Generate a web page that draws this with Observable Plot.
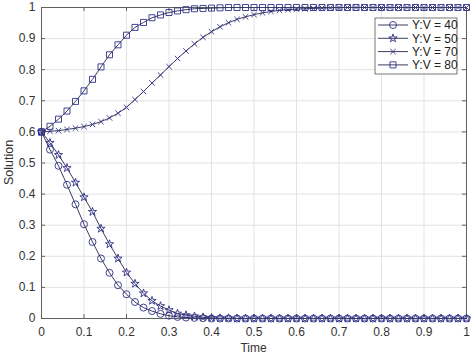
<!DOCTYPE html>
<html>
<head>
<meta charset="utf-8">
<script src="https://cdn.jsdelivr.net/npm/d3@7"></script>
<script src="https://cdn.jsdelivr.net/npm/@observablehq/plot@0.6"></script>
<style>
  html, body { margin: 0; padding: 0; background: #fff; }
  #chart { width: 474px; height: 355px; }
</style>
</head>
<body>
<div id="chart"></div>
<script>
const time = [0,0.02,0.04,0.06,0.08,0.10,0.12,0.14,0.16,0.18,0.20,0.22,0.24,0.26,0.28,0.30,0.32,0.34,0.36,0.38,0.40,0.42,0.44,0.46,0.48,0.50,0.52,0.54,0.56,0.58,0.60,0.62,0.64,0.66,0.68,0.70,0.72,0.74,0.76,0.78,0.80,0.82,0.84,0.86,0.88,0.90,0.92,0.94,0.96,0.98,1.00];

const yv40 = [0.600,0.543,0.491,0.430,0.367,0.303,0.246,0.193,0.147,0.107,0.078,0.053,0.035,0.024,0.015,0.009,0.005,0.003,0.002,0.001,
  0,0,0,0,0,0,0,0,0,0,0,0,0,0,0,0,0,0,0,0,0,0,0,0,0,0,0,0,0,0,0];
const yv50 = [0.600,0.565,0.526,0.484,0.437,0.390,0.343,0.289,0.239,0.193,0.148,0.112,0.081,0.057,0.040,0.027,0.016,0.011,0.007,0.004,0.002,0.001,0.001,
  0,0,0,0,0,0,0,0,0,0,0,0,0,0,0,0,0,0,0,0,0,0,0,0,0,0,0,0];
const yv70 = [0.600,0.602,0.604,0.608,0.612,0.617,0.624,0.633,0.645,0.660,0.679,0.704,0.730,0.757,0.783,0.810,0.836,0.860,0.883,0.904,0.922,0.938,0.951,0.962,0.970,0.977,0.983,0.987,0.991,0.993,0.995,0.996,0.997,0.998,0.999,
  1,1,1,1,1,1,1,1,1,1,1,1,1,1,1,1];
const yv80 = [0.600,0.618,0.641,0.667,0.698,0.732,0.769,0.809,0.848,0.880,0.911,0.936,0.952,0.967,0.976,0.984,0.989,0.993,0.996,0.997,0.998,0.999,
  1,1,1,1,1,1,1,1,1,1,1,1,1,1,1,1,1,1,1,1,1,1,1,1,1,1,1,1,1,1,1];

const seriesNames = ["Y:V = 40", "Y:V = 50", "Y:V = 70", "Y:V = 80"];
const seriesValues = [yv40, yv50, yv70, yv80];
const seriesSymbols = ["circle", "star", "times", "square"];

const xTicks = [0,0.1,0.2,0.3,0.4,0.5,0.6,0.7,0.8,0.9,1];
const yTicks = [0,0.1,0.2,0.3,0.4,0.5,0.6,0.7,0.8,0.9,1];

const rows = [];
seriesValues.forEach((vals, i) => {
  vals.forEach((v, j) => rows.push({series: seriesNames[i], sym: seriesSymbols[i], t: time[j], v}));
});

const lineColor = "#3d3d5e";
const markColor = "#30308a";
const axisColor = "#606060";
const font = "'Liberation Sans', Arial, sans-serif";
const symR = {circle: 3.5, star: 2.6, times: 2.6, square: 3.4};

const W = 474, H = 355;
const mL = 41, mR = 8, mT = 7, mB = 37;
const tickLenX = 4 / (W - mL - mR);
const tickLenY = 4 / (H - mT - mB);

const marks = [
  Plot.gridX(xTicks, {stroke: "#e3e3e3", strokeOpacity: 1}),
  Plot.gridY(yTicks, {stroke: "#e3e3e3", strokeOpacity: 1}),
  Plot.axisX(xTicks, {tickSize: 0, tickPadding: 9, tickFormat: d => String(+d.toFixed(1)), fontSize: 12, fill: "#333", label: null}),
  Plot.axisY(yTicks, {tickSize: 0, tickPadding: 6, tickFormat: d => String(+d.toFixed(1)), fontSize: 12, fill: "#333", label: null}),
  Plot.ruleX(xTicks, {x: d => d, y1: 0, y2: tickLenY, stroke: axisColor}),
  Plot.ruleX(xTicks, {x: d => d, y1: 1 - tickLenY, y2: 1, stroke: axisColor}),
  Plot.ruleY(yTicks, {y: d => d, x1: 0, x2: tickLenX, stroke: axisColor}),
  Plot.ruleY(yTicks, {y: d => d, x1: 1 - tickLenX, x2: 1, stroke: axisColor}),
  Plot.frame({stroke: axisColor}),
];
seriesNames.forEach((name, i) => {
  const data = rows.filter(r => r.series === name);
  marks.push(Plot.line(data, {x: "t", y: "v", stroke: lineColor, strokeWidth: 1}));
  marks.push(Plot.dot(data, {x: "t", y: "v", symbol: seriesSymbols[i], r: symR[seriesSymbols[i]], stroke: markColor, strokeWidth: 0.9, fill: "none"}));
});

const plot = Plot.plot({
  width: W, height: H,
  marginLeft: mL, marginRight: mR, marginTop: mT, marginBottom: mB,
  style: {fontFamily: font, fontSize: "12px", background: "#fff"},
  x: {domain: [0, 1]},
  y: {domain: [0, 1]},
  marks
});

// axis titles
const svg = d3.select(plot);
svg.append("text").attr("x", mL + (W - mL - mR) / 2).attr("y", 352)
  .attr("text-anchor", "middle").attr("font-size", 12).attr("fill", "#333").text("Time");
svg.append("text").attr("transform", `translate(13,${mT + (H - mT - mB) / 2}) rotate(-90)`)
  .attr("text-anchor", "middle").attr("font-size", 12.5).attr("fill", "#333").text("Solution");

// legend
const lg = svg.append("g").attr("transform", "translate(375,18)");
lg.append("rect").attr("width", 82).attr("height", 56).attr("fill", "#fff").attr("stroke", "#555").attr("stroke-width", 0.8);
const symMap = {circle: d3.symbolCircle, star: d3.symbolStar, times: d3.symbolTimes, square: d3.symbolSquare};
seriesNames.forEach((name, i) => {
  const cy = 7 + i * 13.3;
  lg.append("line").attr("x1", 3).attr("x2", 33).attr("y1", cy).attr("y2", cy).attr("stroke", lineColor);
  const r = symR[seriesSymbols[i]];
  lg.append("path").attr("transform", `translate(18,${cy})`)
    .attr("d", d3.symbol(symMap[seriesSymbols[i]], Math.PI * r * r)())
    .attr("fill", "none").attr("stroke", markColor).attr("stroke-width", 0.9);
  lg.append("text").attr("x", 37).attr("y", cy).attr("dy", "0.35em").attr("text-anchor", "start")
    .attr("font-size", 12).attr("fill", "#222").text(name);
});

document.getElementById("chart").appendChild(plot);
</script>
</body>
</html>
